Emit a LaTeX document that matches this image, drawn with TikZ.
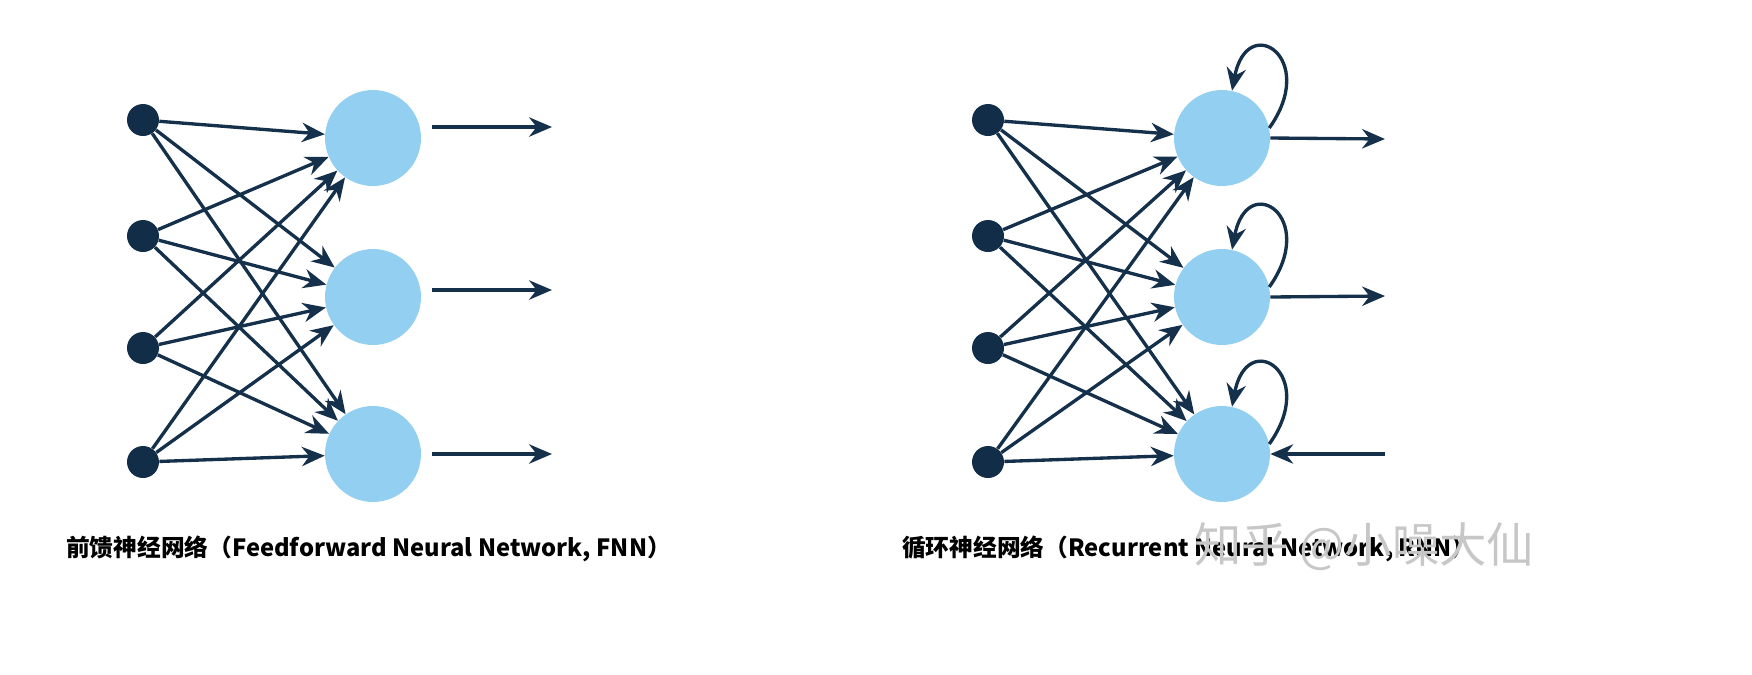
\documentclass[tikz,border=0pt]{standalone}
\usepackage{fontspec}
\newfontfamily\cjk{Noto Sans CJK SC}
\usetikzlibrary{arrows.meta}
\begin{document}
\begin{tikzpicture}[x=0.02cm,y=-0.02cm,
  inp/.style={circle,fill={rgb,255:red,18;green,45;blue,72},minimum size=0.64cm,inner sep=0},
  neu/.style={circle,fill={rgb,255:red,146;green,207;blue,240},minimum size=1.92cm,inner sep=0},
  con/.style={draw={rgb,255:red,20;green,48;blue,74},line width=1.9pt,-{Stealth[length=13pt,width=11pt]}},
  lab/.style={font=\cjk\bfseries\fontsize{13.5pt}{16pt}\selectfont,anchor=west}]
\useasboundingbox (0,0) rectangle (1752,674);
% left
\foreach \i/\y in {1/120,2/236,3/348,4/462}{\node[inp] (a\i) at (143,\y) {};}
\foreach \j/\y in {1/138,2/297,3/454}{\node[neu] (b\j) at (373,\y) {};}
\foreach \i in {1,...,4}{\foreach \j in {1,2,3}{\draw[con] (a\i) -- (b\j);}}
\foreach \j/\y in {1/127,2/290,3/454}{
  \coordinate (ls\j) at (432,\y); \coordinate (le\j) at (552,\y);
  \draw[con] (ls\j) -- (le\j);}
\node[lab] (t1) at (60,549) {前馈神经网络（Feedforward Neural Network, FNN）};
% right
\foreach \i/\y in {1/120,2/236,3/348,4/462}{\node[inp] (c\i) at (988,\y) {};}
\foreach \j/\y in {1/138,2/297,3/454}{\node[neu] (d\j) at (1222,\y) {};}
\foreach \i in {1,...,4}{\foreach \j in {1,2,3}{\draw[con] (c\i) -- (d\j);}}
\foreach \j in {1,2,3}{\draw[con] (d\j.12) .. controls +(50,-70) and +(15,-80) .. (d\j.78);}
\coordinate (r1) at (1385,139); \coordinate (r2) at (1385,296); \coordinate (r3) at (1385,454);
\draw[con] (d1.east) -- (r1);
\draw[con] (d2.east) -- (r2);
\draw[con] (r3) -- (d3.east);
\node[lab] (t2) at (896,549) {循环神经网络（Recurrent Neural Network, RNN）};
\node[font=\cjk\fontsize{27pt}{30pt}\selectfont,text=black!22,anchor=west] (wm) at (1188,547) {知乎 @小噪大仙};
\end{tikzpicture}
\end{document}
